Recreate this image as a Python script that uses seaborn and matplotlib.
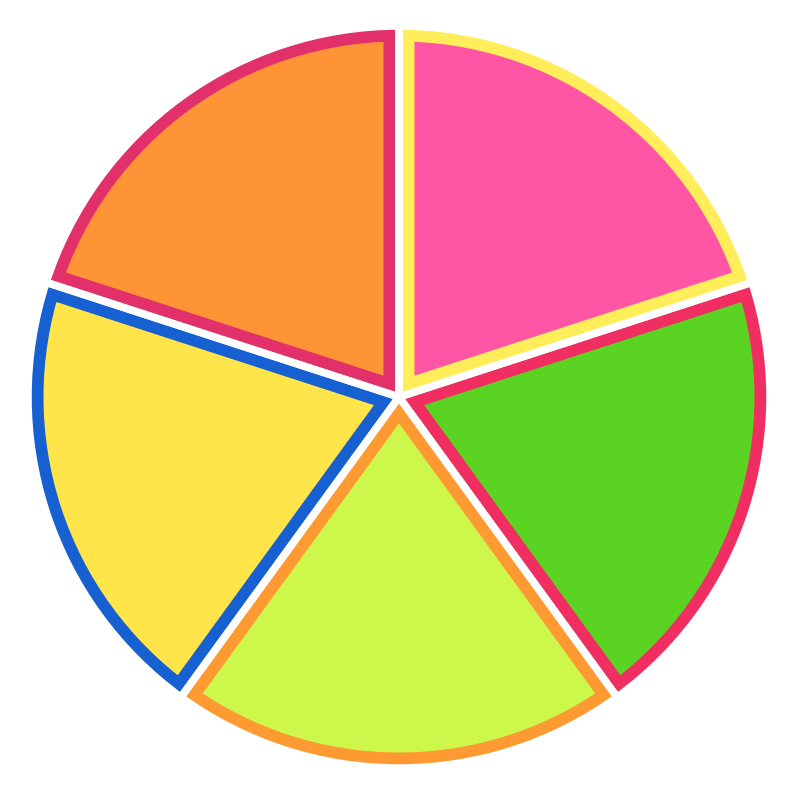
import matplotlib
matplotlib.use("Agg")
import matplotlib.pyplot as plt
import numpy as np
import seaborn as sns

sns.set_theme(style="white")

labels = ["Pink", "Green", "Lime", "Yellow", "Orange"]
values = [1, 1, 1, 1, 1]
fill_colors = ["#FF55A5", "#5BD322", "#CDF74A", "#FFE54A", "#FF9436"]
edge_colors = ["#FFEE5A", "#F02E62", "#FF9A33", "#1660D2", "#E2306A"]

fig = plt.figure(figsize=(8, 7.96), dpi=100)
ax = fig.add_axes([0, 0, 1, 1])

cx, cy, r = 399.0, 399.0, 371.0
px = 72 / 100
band = 15.5    # coloured band + half white gap (px)
gap = 7.5      # white separator (px)

# 1. full outline-coloured pie
ax.pie(values, colors=edge_colors, radius=r, center=(cx, cy), startangle=90,
       counterclock=False, frame=True, wedgeprops=dict(linewidth=0))

# 2. inset fill pie (shifted outward along bisector so straight edges are offset by `band`)
total = float(sum(values))
r_in = r - 30.0
explode = [float(band / np.sin(np.pi * v / total)) for v in values]  # data units
ax.pie(values, colors=fill_colors, radius=r_in, center=(cx, cy), startangle=90,
       counterclock=False, frame=True, explode=explode, wedgeprops=dict(linewidth=0))

# 3. outer ring in outline colours
ax.pie(values, colors=edge_colors, radius=r, center=(cx, cy), startangle=90,
       counterclock=False, frame=True, wedgeprops=dict(width=band, linewidth=0))

# 4. white separators
ax.pie(values, colors=["none"] * len(values), radius=r, center=(cx, cy), startangle=90,
       counterclock=False, frame=True,
       wedgeprops=dict(edgecolor="white", linewidth=gap * px, facecolor="none"))

ax.set_xlim(0, 800)
ax.set_ylim(0, 796)
ax.set_aspect("equal")
ax.axis("off")
fig.savefig("out.png", dpi=100, facecolor="white")
